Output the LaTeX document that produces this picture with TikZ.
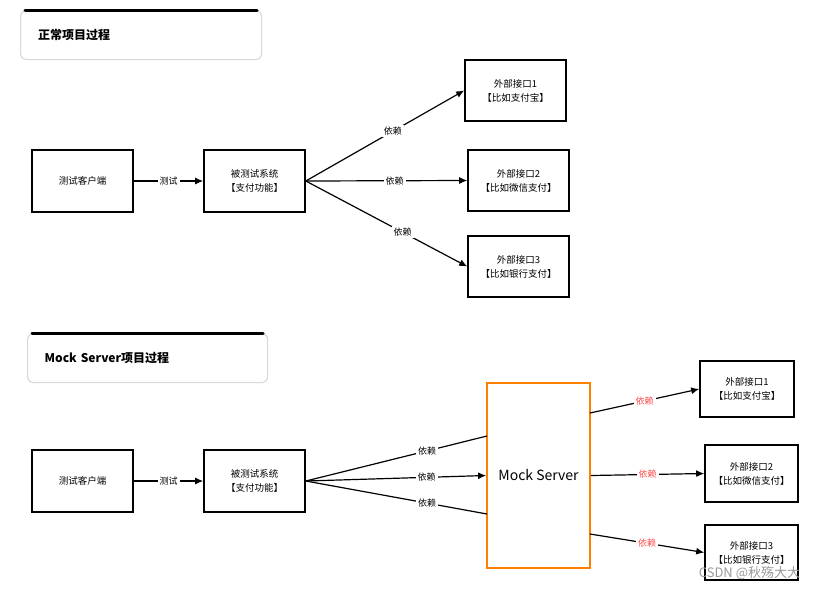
\documentclass[tikz,border=0pt]{standalone}
\usepackage{fontspec}
\setmainfont{Noto Sans CJK SC}
\usetikzlibrary{arrows.meta}
\begin{document}
\begin{tikzpicture}[
	x=1pt,y=-1pt,
	box/.style={draw,line width=1.6pt,inner sep=0pt,align=center,font=\fontsize{9.5}{14}\selectfont},
	title/.style={draw=black!15,rounded corners=6pt,inner sep=0pt,font=\fontsize{12}{14}\selectfont\bfseries,anchor=north west,text width=230pt,minimum height=49pt,align=left},
	dep/.style={fill=white,inner sep=2pt,font=\fontsize{9}{11}\selectfont},
	every path/.style={line width=1.2pt,-{Latex[length=8pt,width=7pt]}},
]
\useasboundingbox (0,0) rectangle (818,590);
% upper part
\node [title,minimum width=241pt] (t1) at (20,10) {\hspace*{12pt}正常项目过程};
\draw [line width=3pt,-,line cap=round] ([xshift=5pt]t1.north west) -- ([xshift=-5pt]t1.north east);
\node [box,minimum width=101pt,minimum height=62pt] (client) at (82.5,181) {测试客户端};
\node [box,minimum width=101pt,minimum height=62pt] (sys) at (254.5,181) {被测试系统\\【支付功能】};
\node [box,minimum width=101pt,minimum height=61pt] (ext1) at (515.5,90.5) {外部接口1\\【比如支付宝】};
\node [box,minimum width=101pt,minimum height=61pt] (ext2) at (518.5,180.5) {外部接口2\\【比如微信支付】};
\node [box,minimum width=101pt,minimum height=61pt] (ext3) at (518.5,266.5) {外部接口3\\【比如银行支付】};
\draw (client) -- node [dep] {测试} (sys);
\draw (sys.east) -- node [dep,pos=0.55] {依赖} (ext1.west);
\draw (sys.east) -- node [dep,pos=0.55] {依赖} (ext2.west);
\draw (sys.east) -- node [dep,pos=0.6] {依赖} (ext3.west);
% lower part
\node [title,minimum width=240pt] (t2) at (27,333) {\hspace*{12pt}Mock Server项目过程};
\draw [line width=3pt,-,line cap=round] ([xshift=5pt]t2.north west) -- ([xshift=-5pt]t2.north east);
\node [box,minimum width=101pt,minimum height=62pt] (client2) at (82.5,481) {测试客户端};
\node [box,minimum width=101pt,minimum height=62pt] (sys2) at (254.5,481) {被测试系统\\【支付功能】};
\node [draw=orange,line width=1.8pt,minimum width=103pt,minimum height=185pt,font=\fontsize{14}{16}\selectfont] (mock) at (538.5,475.5) {Mock Server};
\node [box,minimum width=94pt,minimum height=56pt] (mext1) at (747,389) {外部接口1\\【比如支付宝】};
\node [box,minimum width=93pt,minimum height=57pt] (mext2) at (751.5,473.5) {外部接口2\\【比如微信支付】};
\node [box,minimum width=93pt,minimum height=55pt] (mext3) at (751.5,552.5) {外部接口3\\【比如银行支付】};
\coordinate (in1) at (487,436);
\coordinate (in3) at (487,514);
\coordinate (out1) at (590,413);
\coordinate (out3) at (590,534);
\draw (client2) -- node [dep] {测试} (sys2);
\draw [-] (sys2.east) -- node [dep,pos=0.67] {依赖} (in1);
\draw (sys2.east) -- node [dep,pos=0.67] {依赖} (mock.west);
\draw [-] (sys2.east) -- node [dep,pos=0.67] {依赖} (in3);
\draw (out1) -- node [dep,text=red!70] {依赖} (mext1.west);
\draw (mock.east) -- node [dep,text=red!70] {依赖} (mext2.west);
\draw (out3) -- node [dep,text=red!70] {依赖} (mext3.west);
\node [text=black!40,font=\fontsize{13}{15}\selectfont,anchor=east] (mark) at (804,573) {CSDN @秋殇大大};
\end{tikzpicture}
\end{document}
